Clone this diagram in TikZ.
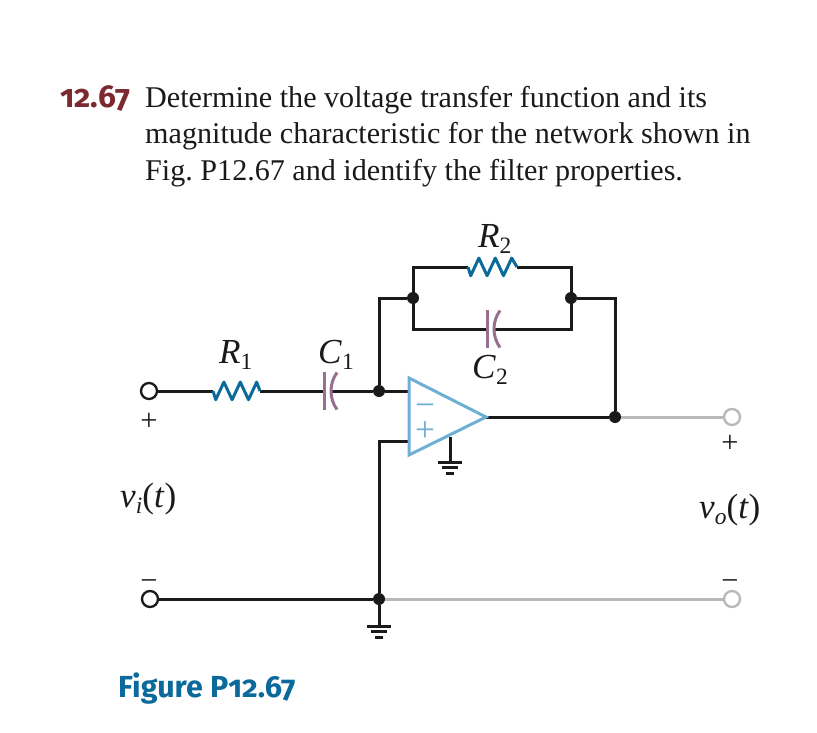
\documentclass[tikz,border=0pt]{standalone}
\usepackage{fontspec}
\setmainfont{Liberation Serif}
\newfontfamily\headfont[Numbers=OldStyle]{Fira Sans}
\definecolor{headred}{HTML}{7B2A30}
\definecolor{figblue}{HTML}{0B6A9B}
\definecolor{resblue}{HTML}{0A6A9A}
\definecolor{cappurple}{HTML}{96708E}
\definecolor{ampblue}{HTML}{6FAFD3}
\definecolor{wiregray}{HTML}{B8B8B8}
\definecolor{wireblack}{HTML}{1A1A1A}
\newcommand{\lblsub}[2]{\textit{#1}\raisebox{-5.5pt}{\fontsize{20}{20}\selectfont #2}}
\newcommand{\zigres}[2]{\draw [res] (#1) -- ++(2.7,-8.7) -- ++(8.2,17.6) -- ++(8.2,-17.6) -- ++(8.2,17.6) -- ++(8.2,-17.6) -- ++(8.2,17.6) -- (#2);}
\newcommand{\capsym}[2]{\draw [capline] (#1) +(0,19) -- +(0,-19);
\draw [capline] (#2) ++(6,18.5) arc (144:216:31.5);}
\newcommand{\gndsym}[1]{\draw [wire] (#1) +(-12,0) -- +(12,0);
\draw [wire] (#1) +(-8,-5.5) -- +(8,-5.5);
\draw [wire] (#1) +(-4,-11) -- +(4,-11);}
\begin{document}
\begin{tikzpicture}[x=0.03cm,y=0.03cm]
\tikzstyle{every node}+=[inner sep=0pt]
\tikzstyle{wire}=[wireblack,line width=0.09cm]
\tikzstyle{lead}=[wiregray,line width=0.09cm]
\tikzstyle{res}=[resblue,line width=0.09cm,line join=round]
\tikzstyle{capline}=[cappurple,line width=0.09cm]
\tikzstyle{amp}=[ampblue,line width=0.09cm,fill=white,line join=miter]
\tikzstyle{dot}=[circle,fill=wireblack,minimum size=0.36cm]
\tikzstyle{term}=[circle,draw=wireblack,fill=white,line width=0.07cm,minimum size=0.48cm]
\tikzstyle{termgray}=[circle,draw=wiregray,fill=white,line width=0.07cm,minimum size=0.48cm]
\tikzstyle{lbl}=[anchor=base west,text=wireblack,font=\fontsize{30}{30}\selectfont]
\tikzstyle{sign}=[text=wireblack,font=\fontsize{26}{26}\selectfont]
\tikzstyle{ampsign}=[text=ampblue,align=center,font=\fontsize{30}{21.3}\selectfont]
\useasboundingbox (0,0) rectangle (817,-732);
\node [anchor=base west,text=headred,font=\headfont\bfseries\fontsize{27}{27}\selectfont] (probnum) at (60,-108) {12.67};
\node [anchor=north west,align=left,text=wireblack,font=\fontsize{25.7}{31.1}\selectfont] (probtext) at (145,-86) {Determine the voltage transfer function and its\\magnitude characteristic for the network shown in\\Fig.\ P12.67 and identify the filter properties.};
\node [anchor=base west,text=figblue,font=\headfont\bfseries\fontsize{26}{26}\selectfont] (figlabel) at (118,-697) {Figure P12.67};
\node [term] (vip) at (149,-391) {};
\node [term] (vim) at (150,-599) {};
\node [termgray] (vop) at (732,-417) {};
\node [termgray] (vom) at (732,-599) {};
\node [dot] (njunc) at (379,-391) {};
\node [dot] (nfbl) at (413,-298) {};
\node [dot] (nfbr) at (571,-298) {};
\node [dot] (nout) at (615,-417) {};
\node [dot] (nbot) at (379,-599) {};
\coordinate (r1a) at (213,-391);
\coordinate (r1b) at (260,-391);
\coordinate (c1a) at (324,-391);
\coordinate (c1b) at (331,-391);
\coordinate (r2a) at (468,-267);
\coordinate (r2b) at (517,-267);
\coordinate (c2a) at (487,-329);
\coordinate (c2b) at (494,-329);
\coordinate (tl) at (413,-267);
\coordinate (tr) at (571,-267);
\coordinate (bl) at (413,-329);
\coordinate (br) at (571,-329);
\coordinate (fbup) at (379,-298);
\coordinate (fbout) at (615,-298);
\coordinate (ampa) at (409,-378);
\coordinate (ampb) at (409,-455);
\coordinate (ampc) at (486,-417);
\coordinate (ampin) at (409,-391);
\coordinate (ampip) at (409,-441);
\coordinate (ampcorner) at (379,-441);
\coordinate (ampgnd) at (450,-437);
\coordinate (gnda) at (450,-462);
\coordinate (gndb) at (379,-626);
\draw [wire] (vip) -- (r1a);
\draw [wire] (r1b) -- (c1a);
\draw [wire] (c1b) -- (njunc);
\draw [wire] (njunc) -- (ampin);
\draw [wire,line join=miter] (njunc) -- (fbup) -- (nfbl);
\draw [wire,line join=miter] (r2a) -- (tl) -- (bl) -- (c2a);
\draw [wire,line join=miter] (r2b) -- (tr) -- (br) -- (c2b);
\draw [wire,line join=miter] (nfbr) -- (fbout) -- (nout);
\draw [wire] (ampc) -- (nout);
\draw [lead] (nout) -- (vop);
\draw [lead] (nbot) -- (vom);
\draw [wire,line join=miter] (ampip) -- (ampcorner) -- (nbot);
\draw [wire] (vim) -- (nbot);
\draw [wire] (nbot) -- (gndb);
\draw [wire] (ampgnd) -- (gnda);
\gndsym{gnda}
\gndsym{gndb}
\zigres{r1a}{r1b}
\zigres{r2a}{r2b}
\capsym{c1a}{c1b}
\capsym{c2a}{c2b}
\draw [amp] (ampa) -- (ampb) -- (ampc) -- cycle;
\node [ampsign] (ampsigns) at (425,-423) {−\\+};
\node [lbl] (lblr1) at (219,-363) {\lblsub{R}{1}};
\node [lbl] (lblc1) at (318,-363) {\lblsub{C}{1}};
\node [lbl] (lblr2) at (478,-247) {\lblsub{R}{2}};
\node [lbl] (lblc2) at (472,-378) {\lblsub{C}{2}};
\node [lbl] (lblvi) at (120,-507) {\textit{v}\raisebox{-5.5pt}{\fontsize{20}{20}\selectfont\textit{i}}(\textit{t})};
\node [lbl] (lblvo) at (699,-518) {\textit{v}\raisebox{-5.5pt}{\fontsize{20}{20}\selectfont\textit{o}}(\textit{t})};
\node [sign] (plusi) at (149,-422) {+};
\node [sign] (minusi) at (149,-585) {−};
\node [sign] (pluso) at (730,-444) {+};
\node [sign] (minuso) at (730,-585) {−};
\end{tikzpicture}
\end{document}
